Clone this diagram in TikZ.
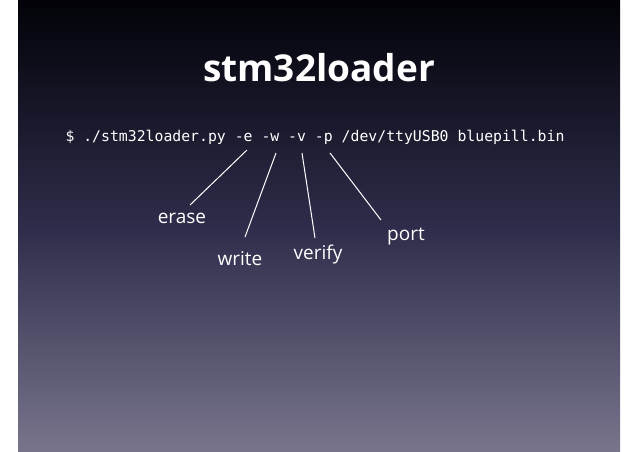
\documentclass[tikz,border=0pt]{standalone}
\usepackage{fontspec}
\setsansfont{Open Sans}
\setmonofont{DejaVu Sans Mono}
\definecolor{bgtop}{RGB}{2,2,8}
\definecolor{bgmid}{RGB}{45,45,75}
\definecolor{bgbot}{RGB}{120,116,140}
\begin{document}
\begin{tikzpicture}[x=1pt,y=-1pt,
  lbl/.style={text=white,font=\sffamily\fontsize{19}{21}\selectfont,inner sep=0pt},
  lead/.style={draw=white,line width=1pt}]
\useasboundingbox (0,0) rectangle (638,451);
\fill[white] (0,0) rectangle (638,451);
\shade[top color=bgtop,bottom color=bgbot,middle color=bgmid] (18,0) rectangle (620,451);
\node[text=white,font=\sffamily\bfseries\fontsize{37}{40}\selectfont,inner sep=0pt] (title) at (319,68) {stm32loader};
\node[text=white,font=\ttfamily\fontsize{14.8}{18}\selectfont,inner sep=0pt] (cmd) at (315,137) {\$ ./stm32loader.py -e -w -v -p /dev/ttyUSB0 bluepill.bin};
\node[lbl] (erase) at (182,218) {erase};
\node[lbl] (write) at (240,259) {write};
\node[lbl] (verify) at (318,255) {verify};
\node[lbl] (port) at (406,237) {port};
\coordinate (e0) at (247,150); \coordinate (e1) at (190,205);
\coordinate (w0) at (276,153); \coordinate (w1) at (245,237);
\coordinate (v0) at (302,153); \coordinate (v1) at (315,238);
\coordinate (p0) at (330,153); \coordinate (p1) at (381,220);
\draw[lead] (e0) -- (e1);
\draw[lead] (w0) -- (w1);
\draw[lead] (v0) -- (v1);
\draw[lead] (p0) -- (p1);
\end{tikzpicture}
\end{document}
